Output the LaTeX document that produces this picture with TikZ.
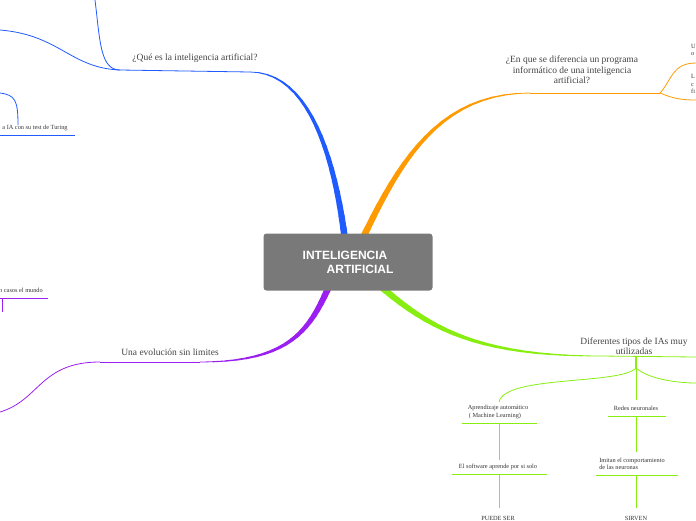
\documentclass[tikz,border=0pt]{standalone}
\usepackage{fontspec}
\setmainfont{Liberation Serif}
\newfontfamily\hd{Liberation Sans}
\definecolor{bl}{HTML}{1F5BFF}
\definecolor{og}{HTML}{FF9A00}
\definecolor{gr}{HTML}{88EE11}
\definecolor{pu}{HTML}{9B1FF0}
\definecolor{tx}{HTML}{444444}
\newcommand\taper[5]{% color, start, c1, c2, end
 \path (#2) .. controls (#3) and (#4) .. (#5)
  \foreach \i in {0,...,20}{ coordinate[pos=\i/20] (tp\i) };
 \foreach \i [evaluate=\i as \j using int(\i+1), evaluate=\i as \w using 6.5-5.7*\i/19] in {0,...,19}
  \draw[#1,line width=\w pt,line cap=round] (tp\i) -- (tp\j);
}
\begin{document}
\begin{tikzpicture}[x=1pt,y=-1pt,
 lab/.style={text=tx,font=\rmfamily\fontsize{9.5}{10.5}\selectfont,align=center,inner sep=1pt},
 sm/.style={text=black!80,font=\rmfamily\fontsize{6.3}{7.5}\selectfont,align=left,inner sep=1pt},
 thin/.style={line width=0.8pt}]
\useasboundingbox (0,0) rectangle (696,520);
\clip (0,0) rectangle (696,520);
% blue
\coordinate (b0) at (120,70);
\taper{bl}{345,240}{335,160}{310,72}{250,72}
\draw[bl,thin] (250,72) -- (b0);
\node[lab] (bq) at (195,58) {¿Qué es la inteligencia artificial?};
\draw[bl,thin] (b0) .. controls (100,70) and (100,40) .. (95,0);
\draw[bl,thin] (b0) .. controls (70,68) and (60,35) .. (0,30);
\coordinate (bt) at (18,125);
\draw[bl,thin] (0,93) .. controls (15,95) and (18,100) .. (bt);
\draw[bl,thin] (0,135) -- (75,135);
\node[sm] (tt) at (35,128) {a IA con su test de Turing};
% orange
\coordinate (o0) at (660,93);
\taper{og}{362,240}{400,160}{440,93}{530,93}
\draw[og,thin] (530,93) -- (o0);
\node[lab] (oq) at (572,70) {¿En que se diferencia un programa\\informático de una inteligencia\\artificial?};
\draw[og,thin] (o0) .. controls (672,80) and (672,63) .. (696,63);
\draw[og,thin] (o0) .. controls (672,98) and (680,100) .. (696,100);
\node[sm,anchor=west] (o1) at (690,50) {U\\o};
\node[sm,anchor=west] (o2) at (690,84) {L\\c\\fi};
% green
\coordinate (g0) at (636,357);
\taper{gr}{378,284}{430,330}{480,356}{600,356}
\draw[gr,thin] (600,356) -- (696,357);
\node[lab] (gq) at (634,346) {Diferentes tipos de IAs muy\\utilizadas};
\coordinate (g1) at (636,368);
\draw[gr,line width=2pt] (g0) -- (g1);
\draw[gr,thin] (g1) .. controls (620,385) and (505,375) .. (499,402);
\draw[gr,thin] (g1) -- (636,400);
\draw[gr,thin] (g1) .. controls (650,380) and (680,383) .. (696,383);
\node[sm,align=left] (a1) at (498,412) {Aprendizaje automático\\\,( Machine Learning)};
\draw[gr,thin] (462,423) -- (537,423);
\draw[gr,thin] (499,423) -- (499,460);
\node[sm] (a2) at (498,467) {El software aprende por si solo};
\draw[gr,thin] (452,474) -- (547,474);
\draw[gr,thin] (499,474) -- (499,508);
\node[sm] (a3) at (498,518) {PUEDE SER};
\node[sm] (r1) at (636,408) {Redes neuronales};
\draw[gr,thin] (608,416) -- (666,416);
\draw[gr,thin] (636,416) -- (636,452);
\node[sm] (r2) at (632,464) {Imitan el comportamiento\\de las neuronas};
\draw[gr,thin] (596,475) -- (678,475);
\draw[gr,thin] (636,475) -- (636,508);
\node[sm] (r3) at (636,518) {SIRVEN};
% purple
\coordinate (p0) at (100,362);
\taper{pu}{330,284}{310,330}{290,362}{200,362}
\draw[pu,thin] (200,362) -- (p0);
\node[lab] (pq) at (170,352) {Una evolución sin limites};
\draw[pu,thin] (p0) .. controls (40,362) and (40,400) .. (0,412);
\draw[pu,thin] (0,298) -- (48,298);
\draw[pu,thin] (2,298) -- (2,312);
\node[sm,anchor=west] (pm) at (-2,290) {n casos el mundo};
% central
\node[fill=gray!95!black,rounded corners=3pt,minimum width=169pt,minimum height=57pt,text=white,font=\hd\bfseries\large,align=left] (c) at (348,262) {INTELIGENCIA\\\hspace*{2em}ARTIFICIAL};
\end{tikzpicture}
\end{document}
